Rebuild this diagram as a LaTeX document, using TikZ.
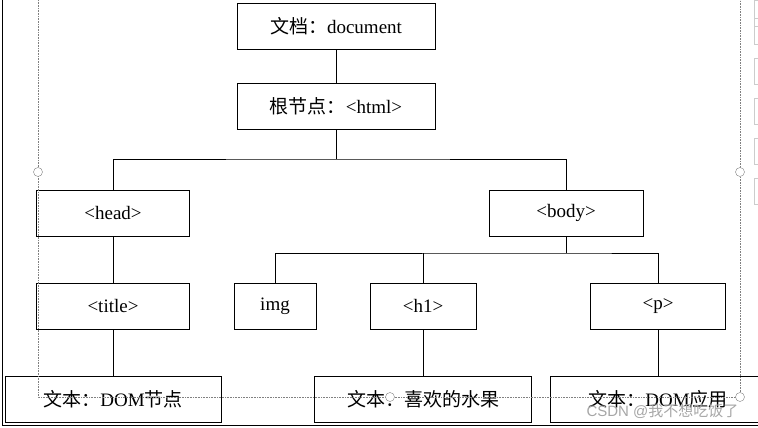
\documentclass[tikz,border=0pt]{standalone}
\usepackage{fontspec}
\setmainfont{Liberation Serif}
\newfontfamily\cjk{Noto Sans CJK SC}
\newfontfamily\lat{Liberation Serif}
\newfontfamily\wm{Liberation Sans}
\begin{document}
\begin{tikzpicture}[x=1pt,y=-1pt,
  box/.style={draw,line width=0.8pt,minimum height=46pt,inner sep=0pt,font=\fontsize{19}{21}\selectfont},
  link/.style={line width=0.8pt},
  sel/.style={densely dotted,gray,line width=0.6pt},
  handle/.style={draw=gray,fill=white,circle,inner sep=0pt,minimum size=9pt}]
\useasboundingbox (0,0) rectangle (758,428);
\clip (0,0) rectangle (758,428);
\draw[line width=1pt] (2,0) -- (2,425) -- (758,425);
\foreach \yy in {0,18,58,98,138,178} \draw[gray!40] (760,\yy) rectangle (754,\yy+26);
\node[box,minimum width=198pt] (doc) at (336,26) {{\cjk 文档：}document};
\node[box,minimum width=198pt] (html) at (336,106) {{\cjk 根节点：}<html>};
\node[box,minimum width=153pt] (head) at (113,213) {<head>};
\node[box,minimum width=154pt] (body) at (566,213) {<body>};
\node[box,minimum width=153pt] (title) at (113,306) {<title>};
\node[box,minimum width=82pt] (img) at (275,306) {img};
\node[box,minimum width=106pt] (h1) at (423,306) {<h1>};
\node[box,minimum width=135pt] (p) at (658,306) {<p>};
\node[box,minimum width=216pt] (t1) at (113,399) {{\cjk 文本：}{\lat DOM}{\cjk 节点}};
\node[box,minimum width=217pt] (t2) at (423,399) {{\cjk 文本：喜欢的水果}};
\node[box,minimum width=216pt] (t3) at (658,399) {{\cjk 文本：}{\lat DOM}{\cjk 应用}};
\coordinate (j1) at (336,159);
\coordinate (j2) at (566,253);
\draw[link] (doc) -- (html);
\draw[link] (html) -- (j1);
\draw[link] (head.north) |- (j1) -| (body.north);
\draw[link] (body) -- (j2);
\draw[link] (img.north) |- (j2) -| (p.north);
\draw[link] (h1.north) -- (h1.north |- j2);
\draw[link] (head) -- (title);
\draw[link] (title) -- (t1);
\draw[link] (h1) -- (t2);
\draw[link] (p) -- (t3);
\draw[sel] (38,0) -- (38,397) -- (740,397) -- (740,0);
\node[handle] (ha) at (38,172) {};
\node[handle] (hb) at (740,172) {};
\node[handle] (hc) at (740,397) {};
\node[handle] (hd) at (390,397) {};
\node[text=gray!70,font=\wm\fontsize{15}{16}\selectfont,anchor=east] (wmk) at (742,411) {CSDN @{\cjk 我不想吃饭了}};
\end{tikzpicture}
\end{document}
